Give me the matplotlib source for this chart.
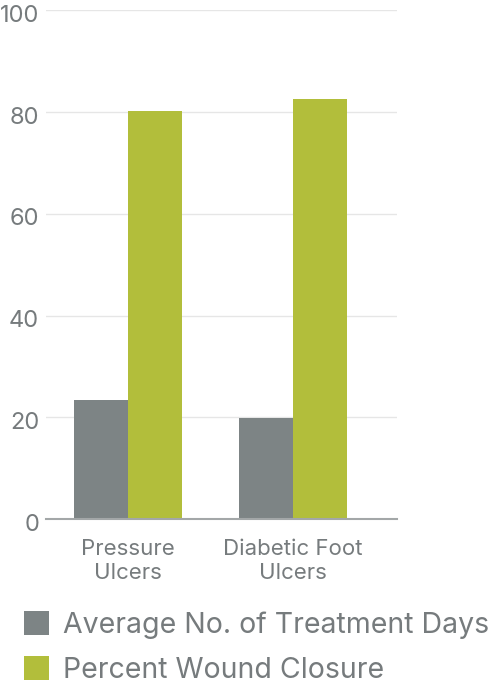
import matplotlib
matplotlib.use("Agg")
import matplotlib.pyplot as plt
import matplotlib.transforms as mtransforms
import numpy as np

categories = ["Pressure\nUlcers", "Diabetic Foot\nUlcers"]
treatment_days = [23.4, 19.8]
wound_closure = [80.2, 82.5]
series_names = ["Average No. of Treatment Days", "Percent Wound Closure"]
yticks = [0, 20, 40, 60, 80, 100]

gray = "#7d8485"
green = "#b2be3b"
text_color = "#767b7d"

plt.rcParams["font.family"] = ["Inter", "DejaVu Sans"]

fig = plt.figure(figsize=(5, 6.83), dpi=100)
ax = fig.add_axes([0.092, 0.240, 0.702, 0.745])

x = np.arange(len(categories))
w = 0.33
b1 = ax.bar(x - w / 2, treatment_days, w, color=gray, zorder=3)
b2 = ax.bar(x + w / 2, wound_closure, w, color=green, zorder=3)

ax.set_ylim(0, 100)
ax.set_xlim(-0.497, 1.63)
ax.set_yticks(yticks)
ax.set_xticks(x)
ax.set_xticklabels(categories, fontsize=16, color=text_color, linespacing=1.3)
ax.tick_params(axis="y", labelsize=17, colors=text_color, length=0, pad=5)
ax.tick_params(axis="x", length=0, pad=14)
shift = mtransforms.ScaledTranslation(0, -4 / 72, fig.dpi_scale_trans)
for lbl in ax.get_yticklabels():
    lbl.set_verticalalignment("center")
    lbl.set_transform(lbl.get_transform() + shift)
ax.grid(axis="y", color="#e6e6e6", linewidth=1, zorder=0)
for s in ["top", "right", "left"]:
    ax.spines[s].set_visible(False)
ax.spines["bottom"].set_color("#a3a7a8")
ax.spines["bottom"].set_linewidth(1.5)
ax.spines["bottom"].set_zorder(4)

fig.legend([b1, b2], series_names, loc="upper left", bbox_to_anchor=(0.047, 0.105),
           frameon=False, fontsize=20.5, labelcolor=text_color, handlelength=0.9,
           handleheight=0.9, handletextpad=0.5, labelspacing=0.6, borderpad=0,
           borderaxespad=0)

fig.savefig("out.png", dpi=100)
